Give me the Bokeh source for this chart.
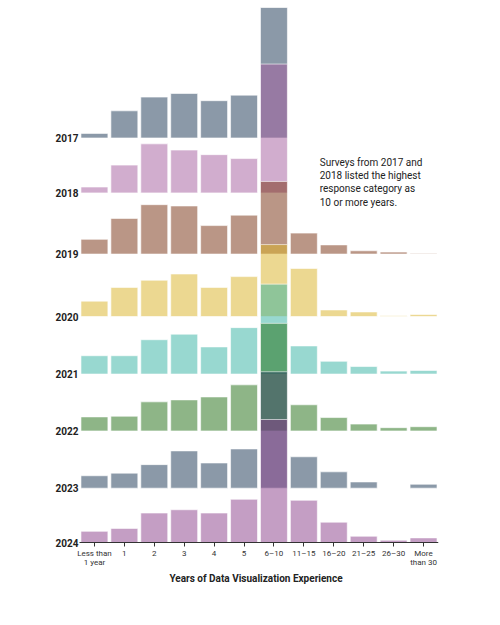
from bokeh.plotting import figure
from bokeh.models import Range1d, Label, FixedTicker, ColumnDataSource
from bokeh.embed import file_html
from bokeh.resources import INLINE

# ---- data (percent of respondents) ----
categories = ["Less than\n1 year", "1", "2", "3", "4", "5", "6\u201310",
              "11\u201315", "16\u201320", "21\u201325", "26\u201330", "More\nthan 30"]
years = ["2017", "2018", "2019", "2020", "2021", "2022", "2023", "2024"]

v2017 = [1.4, 8.3, 12.5, 13.6, 11.4, 13.1, 39.9, None, None, None, None, None]
v2018 = [1.8, 8.5, 15.0, 13.1, 11.7, 10.5, 39.4, None, None, None, None, None]
v2019 = [4.5, 10.9, 15.1, 14.7, 8.7, 11.9, 22.2, 6.4, 2.8, 1.0, 0.6, 0.2]
v2020 = [4.7, 8.9, 11.1, 13.0, 8.9, 12.2, 22.0, 14.7, 2.0, 1.4, 0.2, 0.6]
v2021 = [5.6, 5.6, 10.5, 12.2, 8.3, 14.2, 27.5, 8.6, 3.9, 2.3, 0.9, 1.1]
v2022 = [4.3, 4.5, 8.9, 9.5, 10.4, 14.1, 32.9, 8.0, 4.1, 2.1, 1.0, 1.3]
v2023 = [3.8, 4.6, 7.2, 11.4, 7.7, 12.0, 35.6, 9.6, 5.0, 1.9, None, 1.2]
v2024 = [3.5, 4.4, 9.1, 10.1, 9.1, 13.3, 37.7, 13.0, 6.3, 2.0, 0.8, 1.5]

note = "Surveys from 2017 and\n2018 listed the highest\nresponse category as\n10 or more years."
x_title = "Years of Data Visualization Experience"

# ---- layout / style ----
series = [v2017, v2018, v2019, v2020, v2021, v2022, v2023, v2024]
ridge_base = [123.8, 107.0, 88.3, 69.2, 51.6, 34.2, 16.7, 0.0]
colors = ["#173351", "#a35b9d", "#752d0d", "#d9b123", "#31b1a1", "#1d6b0f", "#173351", "#893d89"]
FONT = "Roboto"

p = figure(width=484, height=600,
           x_range=Range1d(-3.14, 11.5), y_range=Range1d(-17.65, 163.7),
           output_backend="svg", toolbar_location=None, y_axis_location=None,
           min_border_left=0, min_border_right=46, min_border_top=7, min_border_bottom=0)
p.outline_line_color = None
p.xgrid.visible = False
p.ygrid.visible = False
p.background_fill_color = "white"

for yr, vals, base, col in zip(years, series, ridge_base, colors):
    xs, bottoms, tops = [], [], []
    for i, v in enumerate(vals):
        if v is None:
            continue
        xs.append(i)
        bottoms.append(base)
        tops.append(base + v)
    src = ColumnDataSource(dict(x=xs, bottom=bottoms, top=tops))
    p.vbar(x="x", width=0.9, bottom="bottom", top="top", source=src,
           fill_color=col, fill_alpha=0.5, line_color="white", line_alpha=0.6, line_width=1)
    p.add_layout(Label(x=-0.5, y=base, text=yr, x_offset=-1,
                       text_align="right", text_baseline="alphabetic",
                       text_font=FONT, text_font_style="bold", text_font_size="10px",
                       text_color="#222222"))

p.add_layout(Label(x=7.53, y=118.0, text=note, text_align="left", text_baseline="top",
                   text_font=FONT, text_font_size="10px", text_color="#222222"))

p.add_layout(Label(x=5.4, y=-11.0, text=x_title, text_align="center", text_baseline="middle",
                   text_font=FONT, text_font_style="bold", text_font_size="10px",
                   text_color="#222222"))

ax = p.xaxis[0]
ax.fixed_location = 0
ax.ticker = FixedTicker(ticks=list(range(len(categories))))
ax.major_label_overrides = {i: c for i, c in enumerate(categories)}
ax.bounds = (-0.5, 11.5)
ax.minor_tick_line_color = None
ax.axis_line_color = "#333333"
ax.major_tick_line_color = "#333333"
ax.major_tick_out = 4
ax.major_tick_in = 0
ax.major_label_standoff = 2
ax.major_label_text_font = FONT
ax.major_label_text_font_size = "8px"
ax.major_label_text_line_height = 1.0
ax.major_label_text_color = "#333333"

open("out.html", "w").write(file_html(p, INLINE))
